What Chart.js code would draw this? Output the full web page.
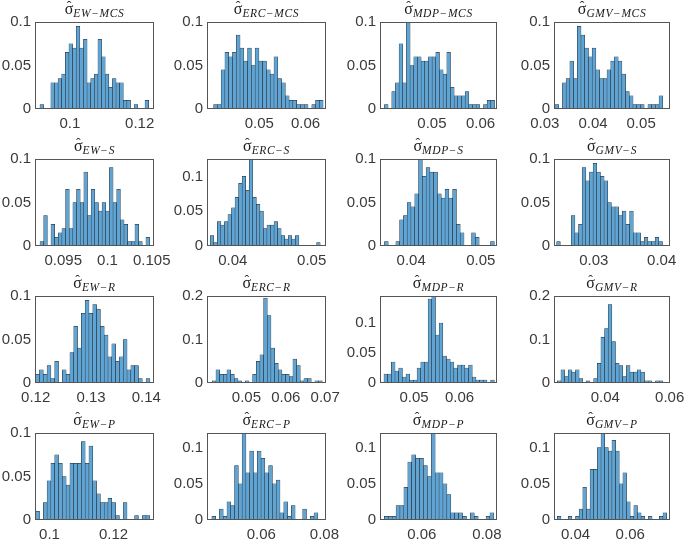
<!DOCTYPE html>
<html>
<head>
<meta charset="utf-8">
<script src="https://cdn.jsdelivr.net/npm/chart.js@4.4.0/dist/chart.umd.min.js"></script>
<style>
  html, body { margin: 0; padding: 0; background: #fff; }
  #wrap { position: relative; width: 685px; height: 542px; overflow: hidden; }
  #wrap canvas { position: absolute; }
  .ttl { position: absolute; text-align: center; white-space: nowrap; line-height: 1;
         font-family: 'Liberation Serif', 'DejaVu Serif', serif; color: #1a1a1a; }
  .ttl .sg { position: relative; display: inline-block; font-size: 16px; }
  .ttl .hat { position: absolute; left: 0; right: 0; top: -1px; text-align: center; font-size: 14px; }
  .ttl sub { font-style: italic; font-size: 11.5px; letter-spacing: 0.6px; vertical-align: -3px; }
</style>
</head>
<body>
<div id="wrap"></div>
<script>
// subscripts of the sigma-hat titles, row by row
const titles = ['EW−MCS', 'ERC−MCS', 'MDP−MCS', 'GMV−MCS',
                'EW−S', 'ERC−S', 'MDP−S', 'GMV−S',
                'EW−R', 'ERC−R', 'MDP−R', 'GMV−R',
                'EW−P', 'ERC−P', 'MDP−P', 'GMV−P'];

// bin probabilities
const ewMcs  = [0.005, 0, 0, 0.03, 0.03, 0.035, 0.04, 0.065, 0.075, 0.07, 0.095, 0.07, 0.08, 0.03, 0.035, 0.04, 0.08, 0.06, 0.04, 0.025, 0.035, 0.03, 0.03, 0.01, 0.01, 0, 0.005, 0, 0, 0.01];
const ercMcs = [0.005, 0.005, 0.045, 0.065, 0.06, 0.065, 0.085, 0.07, 0.055, 0.07, 0.05, 0.07, 0.055, 0.055, 0.045, 0.04, 0.06, 0.035, 0.03, 0.015, 0.01, 0.01, 0.005, 0.005, 0.005, 0, 0.005, 0.01, 0.01];
const mdpMcs = [0.005, 0, 0.02, 0.03, 0.075, 0.03, 0.1, 0.05, 0.06, 0.06, 0.055, 0.055, 0.06, 0.06, 0.065, 0.045, 0.04, 0.065, 0.025, 0.015, 0.015, 0.015, 0.02, 0.005, 0.005, 0.005, 0, 0.005, 0.01, 0.01];
const gmvMcs = [0.005, 0, 0.03, 0.035, 0.055, 0.035, 0.095, 0.085, 0.07, 0.06, 0.07, 0.045, 0.035, 0.035, 0.045, 0.055, 0.06, 0.055, 0.04, 0.02, 0.015, 0.005, 0.005, 0.005, 0, 0.005, 0.005, 0.005, 0.015];
const ewS    = [0.005, 0.035, 0, 0.025, 0.01, 0.015, 0.02, 0.065, 0.02, 0.05, 0.065, 0.05, 0.085, 0.035, 0.065, 0.05, 0.04, 0.05, 0.04, 0.09, 0.05, 0.065, 0.03, 0.025, 0.005, 0.005, 0.025, 0.005, 0, 0.01];
const ercS   = [0.015, 0.005, 0.035, 0.03, 0.035, 0.045, 0.055, 0.07, 0.09, 0.1, 0.08, 0.125, 0.07, 0.06, 0.05, 0.025, 0.03, 0.03, 0.035, 0.025, 0.015, 0.01, 0.015, 0.01, 0.015, 0, 0, 0, 0, 0, 0.005];
const mdpS   = [0.005, 0, 0, 0.005, 0.03, 0.035, 0.05, 0.045, 0.06, 0.1, 0.08, 0.09, 0.085, 0.085, 0.06, 0.055, 0.065, 0.055, 0.065, 0.025, 0.015, 0, 0, 0.015, 0.01, 0, 0, 0, 0.005];
const gmvS   = [0.005, 0, 0, 0, 0.035, 0.015, 0.025, 0.09, 0.075, 0.085, 0.095, 0.085, 0.08, 0.075, 0.05, 0.045, 0.045, 0.035, 0.04, 0.025, 0.04, 0.015, 0.015, 0.005, 0.01, 0.005, 0.005, 0.01, 0.005];
const ewR    = [0.01, 0.015, 0.01, 0.02, 0.005, 0.025, 0, 0.015, 0.01, 0.035, 0.065, 0.04, 0.08, 0.095, 0.08, 0.09, 0.085, 0.065, 0.055, 0.03, 0.045, 0.025, 0.03, 0.05, 0.015, 0.02, 0.02, 0.005, 0, 0.005];
const ercR   = [0.005, 0.03, 0.02, 0.02, 0.03, 0.02, 0.01, 0.005, 0, 0.005, 0, 0.02, 0.05, 0.065, 0.195, 0.155, 0.08, 0.045, 0.03, 0.02, 0.02, 0.015, 0.055, 0.04, 0.005, 0.01, 0.01, 0, 0.005, 0.005];
const mdpR   = [0.015, 0.015, 0.035, 0.02, 0.025, 0.01, 0.015, 0.005, 0.005, 0.025, 0.035, 0.035, 0.14, 0.145, 0.08, 0.1, 0.045, 0.04, 0.035, 0.025, 0.03, 0.03, 0.025, 0.03, 0.01, 0.005, 0.005, 0.005, 0, 0.005];
const gmvR   = [0.005, 0.03, 0.015, 0.03, 0.025, 0.03, 0.01, 0, 0.005, 0, 0.01, 0.045, 0.105, 0.125, 0.18, 0.095, 0.045, 0.04, 0.015, 0.04, 0.025, 0.025, 0.03, 0.025, 0.005, 0.005, 0, 0.005, 0.005];
const ewP    = [0.01, 0, 0.02, 0.045, 0.065, 0.075, 0.065, 0.05, 0.04, 0.065, 0.065, 0.065, 0.09, 0.065, 0.085, 0.045, 0.03, 0.02, 0.02, 0.025, 0.02, 0.005, 0, 0.02, 0, 0, 0.005, 0, 0.005, 0.005];
const ercP   = [0.005, 0, 0.015, 0.005, 0.025, 0.02, 0.075, 0.05, 0.12, 0.065, 0.095, 0.065, 0.095, 0.085, 0.065, 0.075, 0.05, 0.055, 0.01, 0.025, 0.005, 0.02, 0, 0, 0.015, 0, 0.005, 0.01];
const mdpP   = [0.005, 0.005, 0.005, 0.02, 0.02, 0.045, 0.08, 0.09, 0.085, 0.085, 0.075, 0.06, 0.12, 0.065, 0.065, 0.05, 0.035, 0.01, 0.01, 0.01, 0.005, 0, 0.01, 0.005, 0, 0, 0.005, 0.01];
const gmvP   = [0.005, 0, 0, 0.005, 0, 0.005, 0.015, 0.045, 0.015, 0.07, 0.07, 0.1, 0.12, 0.1, 0.095, 0.11, 0.095, 0.05, 0.065, 0.025, 0.005, 0.02, 0.01, 0.005, 0, 0.005, 0, 0, 0.005, 0.01];

const series = [ewMcs, ercMcs, mdpMcs, gmvMcs, ewS, ercS, mdpS, gmvS,
                ewR, ercR, mdpR, gmvR, ewP, ercP, mdpP, gmvP];

// left edge of the first bin and bin width of every histogram
const binStart = [0.09143, 0.04014, 0.04021, 0.03211, 0.09237, 0.03713, 0.03617, 0.02454,
                  0.12, 0.04135, 0.04338, 0.02513, 0.09568, 0.04431, 0.04851, 0.03333];
const binWidth = [0.001038, 0.000816, 0.000756, 0.000772, 0.000413, 0.00045, 0.000544, 0.000537,
                  0.000688, 0.00093, 0.000809, 0.001128, 0.001189, 0.0012, 0.0012, 0.001333];

// axis limits and tick labels
const xMin = [0.09, 0.03871, 0.0393, 0.0319, 0.0918, 0.03672, 0.03553, 0.02415,
              0.11988, 0.04, 0.0425, 0.0241, 0.09546, 0.04277, 0.04718, 0.03212];
const xMax = [0.1241, 0.06443, 0.0634, 0.056, 0.10526, 0.05182, 0.05233, 0.04122,
              0.14138, 0.0702, 0.06824, 0.0601, 0.13265, 0.0805, 0.08308, 0.07455];
const xTicks = [[0.1, 0.12], [0.05, 0.06], [0.05, 0.06], [0.03, 0.04, 0.05],
                [0.095, 0.1, 0.105], [0.04, 0.05], [0.04, 0.05], [0.03, 0.04],
                [0.12, 0.13, 0.14], [0.05, 0.06, 0.07], [0.05, 0.06], [0.04, 0.06],
                [0.1, 0.12], [0.06, 0.08], [0.06, 0.08], [0.04, 0.06]];
const yMax = [0.1, 0.1, 0.1, 0.1, 0.1, 0.125, 0.1, 0.1,
              0.1, 0.2, 0.145, 0.2, 0.1, 0.12, 0.12, 0.12];
const yTicks = [[0, 0.05, 0.1], [0, 0.05, 0.1], [0, 0.05, 0.1], [0, 0.05, 0.1],
                [0, 0.05, 0.1], [0, 0.05, 0.1], [0, 0.05, 0.1], [0, 0.05, 0.1],
                [0, 0.05, 0.1], [0, 0.1, 0.2], [0, 0.05, 0.1], [0, 0.1, 0.2],
                [0, 0.05, 0.1], [0, 0.05, 0.1], [0, 0.05, 0.1], [0, 0.05, 0.1]];

// page layout: axes boxes in page pixels
const colLeft = [35, 207, 380, 554];
const colRight = [154, 326, 497, 670];
const rowTop = [22, 159, 296, 433];
const BOX_H = 87;
const PAD_L = 60, PAD_R = 30, PAD_T = 25, PAD_B = 30;

const BAR_FILL = 'rgb(96,164,212)';
const BAR_EDGE = '#1b1f24';
const tickFont = { family: "'Liberation Sans', Arial, sans-serif", size: 15 };
const TICK_COLOR = '#3a3a3a';

const fmt = v => String(+Number(v).toFixed(4));

// full axes box like MATLAB's "box on"
const boxPlugin = {
  id: 'axesBox',
  afterDraw(chart) {
    const { ctx, chartArea: a } = chart;
    ctx.save();
    ctx.strokeStyle = '#555';
    ctx.lineWidth = 1;
    ctx.strokeRect(a.left + 0.5, a.top + 0.5, a.right - a.left - 1, a.bottom - a.top - 1);
    ctx.restore();
  }
};

const wrap = document.getElementById('wrap');

series.forEach((h, i) => {
  const r = Math.floor(i / 4), c = i % 4;
  const w = colRight[c] - colLeft[c];

  const cv = document.createElement('canvas');
  cv.width = w + PAD_L + PAD_R;
  cv.height = BOX_H + PAD_T + PAD_B;
  cv.style.left = (colLeft[c] - PAD_L) + 'px';
  cv.style.top = (rowTop[r] - PAD_T) + 'px';
  wrap.appendChild(cv);

  const ttl = document.createElement('div');
  ttl.className = 'ttl';
  ttl.style.left = colLeft[c] + 'px';
  ttl.style.width = w + 'px';
  ttl.style.top = (rowTop[r] - 21) + 'px';
  ttl.innerHTML = '<span class="sg">σ<span class="hat">\u02C6</span></span><sub>' + titles[i] + '</sub>';
  wrap.appendChild(ttl);

  const pts = h.map((v, k) => ({ x: binStart[i] + (k + 0.5) * binWidth[i], y: v }));

  new Chart(cv, {
    type: 'bar',
    data: {
      datasets: [{
        data: pts,
        backgroundColor: BAR_FILL,
        borderColor: BAR_EDGE,
        borderWidth: 0.5,
        barPercentage: 1,
        categoryPercentage: 1,
      }],
    },
    options: {
      responsive: false,
      animation: false,
      devicePixelRatio: 1,
      layout: { padding: { left: 0, right: PAD_R, top: PAD_T, bottom: 0 } },
      plugins: { legend: { display: false }, tooltip: { enabled: false } },
      scales: {
        x: {
          type: 'linear', min: xMin[i], max: xMax[i], offset: false,
          grid: { display: false, drawTicks: false }, border: { display: false },
          afterBuildTicks: s => { s.ticks = xTicks[i].map(v => ({ value: v })); },
          afterFit: s => { s.height = PAD_B; },
          ticks: { font: tickFont, color: TICK_COLOR, padding: 6, maxRotation: 0, autoSkip: false, callback: fmt },
        },
        y: {
          min: 0, max: yMax[i],
          grid: { display: false, drawTicks: false }, border: { display: false },
          afterBuildTicks: s => { s.ticks = yTicks[i].map(v => ({ value: v })); },
          afterFit: s => { s.width = PAD_L; },
          ticks: { font: tickFont, color: TICK_COLOR, padding: 4, autoSkip: false, callback: fmt },
        },
      },
    },
    plugins: [boxPlugin],
  });
});
</script>
</body>
</html>
